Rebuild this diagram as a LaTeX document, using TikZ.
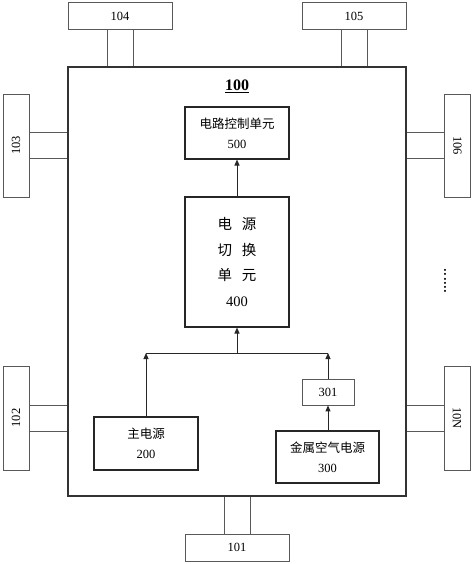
\documentclass[tikz,border=0pt]{standalone}
\usepackage{fontspec}
\setmainfont{Liberation Serif}
\newfontfamily\cjk{Noto Sans CJK SC}
\usetikzlibrary{arrows.meta}
\tikzstyle{outer box}=[draw=black!65, line width=0.8pt, inner sep=0, font=\fontsize{12.5}{14}\selectfont]
\tikzstyle{unit}=[draw=black!85, line width=1.1pt, inner sep=0, align=center, font=\fontsize{12.5}{20}\selectfont]
\tikzstyle{frame}=[draw=black!80, line width=1.1pt, inner sep=0]
\tikzstyle{wire}=[draw=black!65, line width=0.8pt]
\tikzstyle{signal}=[draw=black!85, line width=1pt, -{Triangle[length=6pt, width=5pt]}]

\begin{document}
\begin{tikzpicture}[x=1pt, y=-1pt]
      \useasboundingbox (0, 0) rectangle (474, 564);

      \node[frame, minimum width=338pt, minimum height=429pt] (main) at (237, 281.5) {};
      \node[font=\fontsize{16}{18}\selectfont\bfseries] (label_100) at (237, 86) {\underline{100}};

      \node[outer box, minimum width=104pt, minimum height=27pt] (box_104) at (120, 16) {104};
      \node[outer box, minimum width=104pt, minimum height=27pt] (box_105) at (354, 16) {105};
      \node[outer box, minimum width=104pt, minimum height=27pt] (box_101) at (237, 547.5) {101};
      \node[outer box, minimum width=26pt, minimum height=103pt] (box_103) at (16, 145.5) {\rotatebox{90}{103}};
      \node[outer box, minimum width=26pt, minimum height=104pt] (box_102) at (16, 418) {\rotatebox{90}{102}};
      \node[outer box, minimum width=26pt, minimum height=103pt] (box_106) at (457.5, 145.5) {\rotatebox{-90}{106}};
      \node[outer box, minimum width=26pt, minimum height=104pt] (box_10N) at (457, 418) {\rotatebox{-90}{10N}};
      \node[font=\fontsize{17}{17}\selectfont] (dots) at (445, 281) {\rotatebox{90}{......}};

      \foreach \off in {-13, 13} {
        \draw[wire] ([xshift=\off pt]box_104.south) -- ([xshift=\off pt]box_104.south |- main.north);
        \draw[wire] ([xshift=\off pt]box_105.south) -- ([xshift=\off pt]box_105.south |- main.north);
        \draw[wire] ([xshift=\off pt]box_101.north) -- ([xshift=\off pt]box_101.north |- main.south);
        \draw[wire] ([yshift=\off pt]box_103.east) -- ([yshift=\off pt]box_103.east -| main.west);
        \draw[wire] ([yshift=\off pt]box_102.east) -- ([yshift=\off pt]box_102.east -| main.west);
        \draw[wire] ([yshift=\off pt]box_106.west) -- ([yshift=\off pt]box_106.west -| main.east);
        \draw[wire] ([yshift=\off pt]box_10N.west) -- ([yshift=\off pt]box_10N.west -| main.east);
      }

      \node[unit, minimum width=104pt, minimum height=52pt] (unit_500) at (237, 133) {{\cjk 电路控制单元}\\500};
      \node[unit, minimum width=104pt, minimum height=130pt, font=\fontsize{14.5}{25.5}\selectfont] (unit_400) at (237, 262)
        {{\cjk 电\hspace{10pt}源}\\{\cjk 切\hspace{10pt}换}\\{\cjk 单\hspace{10pt}元}\\400};
      \node[unit, minimum width=104pt, minimum height=53pt] (source_200) at (146, 443.5) {{\cjk 主电源}\\200};
      \node[unit, minimum width=103pt, minimum height=52pt] (source_300) at (327.5, 457) {{\cjk 金属空气电源}\\300};
      \node[outer box, minimum width=52pt, minimum height=26pt] (box_301) at (328, 392) {301};

      \coordinate (junction) at (237, 353);

      \draw[signal] (unit_400.north) -- (unit_500.south);
      \draw[signal] (junction) -- (unit_400.south);
      \draw[draw=black!85, line width=1pt] (source_200.north |- junction) -- (box_301.north |- junction);
      \draw[signal] (source_200.north) -- (source_200.north |- junction);
      \draw[signal] (box_301.north) -- (box_301.north |- junction);
      \draw[signal] (source_300.north -| box_301.south) -- (box_301.south);
    \end{tikzpicture}
\end{document}
